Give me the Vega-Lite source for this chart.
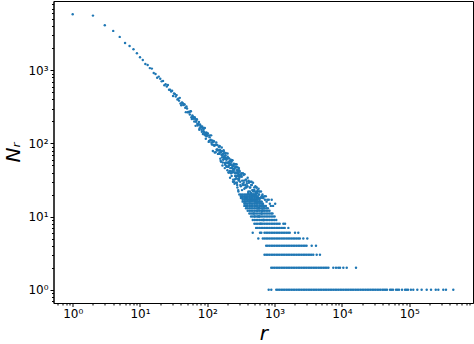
{
"$schema":"https://vega.github.io/schema/vega-lite/v6.json",
"width":419.5,"height":302,
"autosize":{"type":"none"},
"padding":{"left":53.5,"top":1,"right":1,"bottom":41},
"background":"white",
"config":{"view":{"stroke":"#000","strokeWidth":1},"axis":{"grid":false,"domainColor":"#000","tickColor":"#000","labelColor":"#000","titleColor":"#000","labelFont":"DejaVu Sans","titleFont":"DejaVu Sans","labelFontSize":12,"titleFontSize":20,"titleFontWeight":"normal","titleFontStyle":"italic","labelOverlap":false,"labelFlush":false,"labelPadding":2}},
"data":{"values":[
{"r":1,"n":5850},{"r":2,"n":5600},{"r":3,"n":4140},{"r":4,"n":3460},{"r":5,"n":2865},{"r":6,"n":2370},{"r":7,"n":2157},{"r":8,"n":1945},{"r":9,"n":1713},{"r":10,"n":1510},
{"r":11,"n":1384},{"r":12,"n":1219},{"r":13,"n":1186},{"r":14,"n":1072},{"r":15,"n":1055},{"r":16,"n":919},{"r":17,"n":891},{"r":18,"n":793},{"r":19,"n":820},{"r":20,"n":766},
{"r":21,"n":706},{"r":22,"n":717},{"r":23,"n":624},{"r":24,"n":644},{"r":25,"n":602},{"r":26,"n":629},{"r":27,"n":543},{"r":28,"n":544},{"r":29,"n":512},{"r":30,"n":525},
{"r":31,"n":445},{"r":32,"n":483},{"r":33,"n":475},{"r":34,"n":438},{"r":35,"n":458},{"r":36,"n":399},{"r":37,"n":408},{"r":38,"n":385},{"r":39,"n":420},{"r":40,"n":351},
{"r":41,"n":332},{"r":42,"n":364},{"r":43,"n":357},{"r":44,"n":335},{"r":45,"n":344},{"r":46,"n":340},{"r":47,"n":307},{"r":48,"n":268},{"r":49,"n":320},{"r":50,"n":301},
{"r":51,"n":266},{"r":52,"n":269},{"r":53,"n":270},{"r":54,"n":267},{"r":55,"n":249},{"r":56,"n":275},{"r":57,"n":275},{"r":58,"n":229},{"r":59,"n":216},{"r":60,"n":242},
{"r":61,"n":234},{"r":62,"n":229},{"r":63,"n":218},{"r":64,"n":200},{"r":65,"n":228},{"r":66,"n":218},{"r":67,"n":174},{"r":68,"n":198},{"r":69,"n":206},{"r":70,"n":215},
{"r":71,"n":184},{"r":72,"n":176},{"r":73,"n":186},{"r":74,"n":183},{"r":75,"n":197},{"r":76,"n":154},{"r":77,"n":161},{"r":78,"n":182},{"r":79,"n":175},{"r":80,"n":170},
{"r":81,"n":166},{"r":82,"n":154},{"r":83,"n":144},{"r":84,"n":171},{"r":85,"n":162},{"r":86,"n":135},{"r":87,"n":147},{"r":88,"n":154},{"r":89,"n":163},{"r":90,"n":142},
{"r":91,"n":132},{"r":92,"n":163},{"r":93,"n":139},{"r":94,"n":128},{"r":95,"n":116},{"r":96,"n":135},{"r":97,"n":141},{"r":98,"n":125},{"r":99,"n":132},{"r":100,"n":137},
{"r":102,"n":137},{"r":105,"n":105},{"r":108,"n":122},{"r":111,"n":110},{"r":114,"n":129},{"r":117,"n":97},{"r":120,"n":104},{"r":123,"n":95},{"r":126,"n":106},{"r":129,"n":75},
{"r":132,"n":95},{"r":135,"n":96},{"r":138,"n":83},{"r":141,"n":95},{"r":144,"n":72},{"r":147,"n":80},{"r":150,"n":72},{"r":153,"n":91},{"r":156,"n":62},{"r":159,"n":75},
{"r":162,"n":70},{"r":165,"n":78},{"r":168,"n":50},{"r":171,"n":72},{"r":174,"n":61},{"r":177,"n":65},{"r":180,"n":73},{"r":183,"n":54},{"r":186,"n":64},{"r":189,"n":61},
{"r":192,"n":49},{"r":195,"n":62},{"r":198,"n":54},{"r":201,"n":66},{"r":204,"n":48},{"r":207,"n":53},{"r":210,"n":40},{"r":213,"n":57},{"r":216,"n":53},{"r":219,"n":46},
{"r":222,"n":57},{"r":225,"n":39},{"r":228,"n":51},{"r":231,"n":46},{"r":234,"n":59},{"r":237,"n":40},{"r":240,"n":45},{"r":243,"n":41},{"r":246,"n":49},{"r":249,"n":30},
{"r":252,"n":45},{"r":255,"n":46},{"r":258,"n":39},{"r":261,"n":48},{"r":264,"n":33},{"r":267,"n":39},{"r":270,"n":35},{"r":273,"n":48},{"r":276,"n":29},{"r":279,"n":39},
{"r":282,"n":36},{"r":285,"n":43},{"r":288,"n":23},{"r":291,"n":39},{"r":294,"n":32},{"r":297,"n":35},{"r":300,"n":42},
{"r":103,"n":128},{"r":106,"n":108},{"r":109,"n":129},{"r":112,"n":112},{"r":115,"n":102},{"r":118,"n":110},{"r":121,"n":79},{"r":124,"n":108},{"r":127,"n":93},{"r":130,"n":95},
{"r":133,"n":76},{"r":136,"n":103},{"r":139,"n":80},{"r":142,"n":83},{"r":145,"n":72},{"r":148,"n":90},{"r":151,"n":74},{"r":154,"n":82},{"r":157,"n":78},{"r":160,"n":56},
{"r":163,"n":79},{"r":166,"n":65},{"r":169,"n":69},{"r":172,"n":60},{"r":175,"n":81},{"r":178,"n":62},{"r":181,"n":67},{"r":184,"n":51},{"r":187,"n":69},{"r":190,"n":55},
{"r":193,"n":60},{"r":196,"n":63},{"r":199,"n":43},{"r":202,"n":55},{"r":205,"n":48},{"r":208,"n":63},{"r":211,"n":50},{"r":214,"n":56},{"r":217,"n":42},{"r":220,"n":51},
{"r":223,"n":52},{"r":226,"n":41},{"r":229,"n":56},{"r":232,"n":47},{"r":235,"n":42},{"r":238,"n":49},{"r":241,"n":30},{"r":244,"n":51},{"r":247,"n":42},{"r":250,"n":44},
{"r":253,"n":32},{"r":256,"n":52},{"r":259,"n":36},{"r":262,"n":40},{"r":265,"n":33},{"r":268,"n":47},{"r":271,"n":36},{"r":274,"n":43},{"r":277,"n":40},{"r":280,"n":25},
{"r":283,"n":42},{"r":286,"n":33},{"r":289,"n":37},{"r":292,"n":31},{"r":295,"n":46},{"r":298,"n":33},
{"r":152,"n":92},{"r":158,"n":58},{"r":164,"n":88},{"r":170,"n":55},{"r":176,"n":77},{"r":182,"n":46},{"r":188,"n":74},{"r":194,"n":48},{"r":200,"n":73},{"r":206,"n":40},
{"r":212,"n":62},{"r":218,"n":34},{"r":224,"n":60},{"r":230,"n":36},{"r":236,"n":59},{"r":242,"n":32},{"r":248,"n":53},{"r":254,"n":28},{"r":260,"n":52},{"r":266,"n":29},
{"r":272,"n":52},{"r":278,"n":27},{"r":284,"n":47},{"r":290,"n":22},{"r":296,"n":43},
{"r":305,"n":35},{"r":315,"n":26},{"r":325,"n":35},{"r":335,"n":28},{"r":345,"n":37},{"r":355,"n":24},{"r":365,"n":27},{"r":375,"n":18},{"r":385,"n":30},{"r":395,"n":26},
{"r":405,"n":21},{"r":415,"n":29},{"r":425,"n":16},{"r":435,"n":25},{"r":445,"n":21},{"r":455,"n":30},{"r":465,"n":17},{"r":475,"n":20},{"r":485,"n":17},{"r":495,"n":23},
{"r":505,"n":10},{"r":515,"n":20},{"r":525,"n":21},{"r":535,"n":16},{"r":545,"n":22},{"r":555,"n":12},{"r":565,"n":16},{"r":575,"n":13},{"r":585,"n":22},{"r":595,"n":10},
{"r":605,"n":16},{"r":615,"n":14},{"r":625,"n":18},{"r":635,"n":6},{"r":645,"n":16},{"r":655,"n":12},{"r":665,"n":14},{"r":675,"n":18},{"r":685,"n":9},{"r":695,"n":14},
{"r":301,"n":37},{"r":310,"n":27},{"r":320,"n":39},{"r":330,"n":31},{"r":340,"n":27},{"r":350,"n":31},{"r":360,"n":16},{"r":370,"n":32},{"r":380,"n":25},{"r":390,"n":26},
{"r":400,"n":17},{"r":410,"n":31},{"r":420,"n":20},{"r":430,"n":22},{"r":440,"n":17},{"r":450,"n":27},{"r":460,"n":19},{"r":470,"n":23},{"r":480,"n":22},{"r":490,"n":11},
{"r":500,"n":23},{"r":510,"n":16},{"r":520,"n":17},{"r":530,"n":14},{"r":540,"n":25},{"r":550,"n":16},{"r":560,"n":18},{"r":570,"n":10},{"r":580,"n":20},{"r":590,"n":13},
{"r":600,"n":16},{"r":610,"n":18},{"r":620,"n":8},{"r":630,"n":14},{"r":640,"n":11},{"r":650,"n":19},{"r":660,"n":12},{"r":670,"n":15},{"r":680,"n":9},{"r":690,"n":13},
{"r":302,"n":41},{"r":308,"n":30},{"r":318,"n":37},{"r":328,"n":23},{"r":338,"n":39},{"r":348,"n":29},{"r":358,"n":38},{"r":368,"n":25},{"r":378,"n":32},{"r":388,"n":28},
{"r":398,"n":34},{"r":408,"n":22},{"r":418,"n":30},{"r":428,"n":25},{"r":438,"n":30},{"r":448,"n":20},{"r":458,"n":27},{"r":468,"n":23},{"r":478,"n":29},{"r":488,"n":20},
{"r":498,"n":25},{"r":508,"n":22},{"r":518,"n":26},{"r":528,"n":19},{"r":538,"n":25},{"r":548,"n":21},{"r":558,"n":23},{"r":568,"n":18},{"r":578,"n":24},{"r":588,"n":20},
{"r":598,"n":22},{"r":612,"n":18},{"r":628,"n":22},{"r":642,"n":19},{"r":660,"n":20},{"r":680,"n":18},{"r":700,"n":19},{"r":720,"n":17},{"r":740,"n":19},{"r":760,"n":16},
{"r":780,"n":17},{"r":820,"n":17},{"r":850,"n":15},{"r":950,"n":14},{"r":1020,"n":15},
{"r":880,"n":14},{"r":906,"n":17},
{"r":817,"n":1},{"r":893,"n":1},{"r":1059,"n":1},{"r":1122,"n":1},{"r":1189,"n":1},{"r":1259,"n":1},{"r":1334,"n":1},{"r":1413,"n":1},{"r":1496,"n":1},{"r":1585,"n":1},
{"r":1679,"n":1},{"r":1778,"n":1},{"r":1884,"n":1},{"r":1995,"n":1},{"r":2114,"n":1},{"r":2239,"n":1},{"r":2371,"n":1},{"r":2512,"n":1},{"r":2661,"n":1},{"r":2818,"n":1},
{"r":2985,"n":1},{"r":3162,"n":1},{"r":3350,"n":1},{"r":3548,"n":1},{"r":3758,"n":1},{"r":3981,"n":1},{"r":4217,"n":1},{"r":4467,"n":1},{"r":4732,"n":1},{"r":5012,"n":1},
{"r":5309,"n":1},{"r":5623,"n":1},{"r":5957,"n":1},{"r":6310,"n":1},{"r":6683,"n":1},{"r":7080,"n":1},{"r":7499,"n":1},{"r":7943,"n":1},{"r":8414,"n":1},{"r":8913,"n":1},
{"r":9441,"n":1},{"r":10000,"n":1},{"r":10593,"n":1},{"r":11220,"n":1},{"r":11885,"n":1},{"r":12589,"n":1},{"r":13335,"n":1},{"r":14125,"n":1},{"r":14962,"n":1},{"r":15849,"n":1},
{"r":16788,"n":1},{"r":17783,"n":1},{"r":18836,"n":1},{"r":19953,"n":1},{"r":21135,"n":1},{"r":22387,"n":1},{"r":23714,"n":1},{"r":25119,"n":1},{"r":26607,"n":1},{"r":28184,"n":1},
{"r":29854,"n":1},{"r":31623,"n":1},{"r":33497,"n":1},{"r":35481,"n":1},{"r":37584,"n":1},{"r":40000,"n":1},{"r":42200,"n":1},{"r":44500,"n":1},{"r":46800,"n":1},{"r":51900,"n":1},
{"r":54500,"n":1},{"r":57500,"n":1},{"r":63700,"n":1},{"r":67000,"n":1},{"r":70600,"n":1},{"r":78200,"n":1},{"r":86700,"n":1},{"r":91000,"n":1},{"r":96000,"n":1},{"r":106000,"n":1},
{"r":115000,"n":1},{"r":132000,"n":1},{"r":153000,"n":1},{"r":182000,"n":1},{"r":211000,"n":1},{"r":248000,"n":1},{"r":271000,"n":1},{"r":321000,"n":1},{"r":352000,"n":1},{"r":452000,"n":1},
{"r":891,"n":2},{"r":944,"n":2},{"r":1000,"n":2},{"r":1059,"n":2},{"r":1122,"n":2},{"r":1189,"n":2},{"r":1259,"n":2},{"r":1334,"n":2},{"r":1413,"n":2},{"r":1496,"n":2},
{"r":1585,"n":2},{"r":1679,"n":2},{"r":1778,"n":2},{"r":1884,"n":2},{"r":1995,"n":2},{"r":2114,"n":2},{"r":2239,"n":2},{"r":2371,"n":2},{"r":2512,"n":2},{"r":2661,"n":2},
{"r":2818,"n":2},{"r":2985,"n":2},{"r":3162,"n":2},{"r":3350,"n":2},{"r":3548,"n":2},{"r":3758,"n":2},{"r":3981,"n":2},{"r":4217,"n":2},{"r":4467,"n":2},{"r":4732,"n":2},
{"r":5012,"n":2},{"r":5309,"n":2},{"r":5623,"n":2},{"r":5957,"n":2},{"r":6310,"n":2},{"r":7450,"n":2},{"r":8170,"n":2},{"r":8830,"n":2},{"r":9370,"n":2},{"r":10500,"n":2},
{"r":11800,"n":2},{"r":16200,"n":2},
{"r":708,"n":3},{"r":750,"n":3},{"r":794,"n":3},{"r":841,"n":3},{"r":891,"n":3},{"r":944,"n":3},{"r":1000,"n":3},{"r":1059,"n":3},{"r":1122,"n":3},{"r":1189,"n":3},
{"r":1259,"n":3},{"r":1334,"n":3},{"r":1413,"n":3},{"r":1496,"n":3},{"r":1585,"n":3},{"r":1679,"n":3},{"r":1778,"n":3},{"r":1884,"n":3},{"r":1995,"n":3},{"r":2114,"n":3},
{"r":2239,"n":3},{"r":2371,"n":3},{"r":2512,"n":3},{"r":2661,"n":3},{"r":2818,"n":3},{"r":2985,"n":3},{"r":3162,"n":3},{"r":3350,"n":3},{"r":3548,"n":3},{"r":3758,"n":3},
{"r":4220,"n":3},{"r":4720,"n":3},
{"r":750,"n":4},{"r":794,"n":4},{"r":841,"n":4},{"r":891,"n":4},{"r":944,"n":4},{"r":1000,"n":4},{"r":1059,"n":4},{"r":1122,"n":4},{"r":1189,"n":4},{"r":1259,"n":4},
{"r":1334,"n":4},{"r":1413,"n":4},{"r":1496,"n":4},{"r":1585,"n":4},{"r":1679,"n":4},{"r":1778,"n":4},{"r":1884,"n":4},{"r":1995,"n":4},{"r":2114,"n":4},{"r":2239,"n":4},
{"r":2371,"n":4},{"r":2512,"n":4},{"r":2661,"n":4},{"r":2818,"n":4},{"r":2985,"n":4},{"r":3560,"n":4},{"r":4120,"n":4},
{"r":573,"n":5},{"r":668,"n":5},{"r":708,"n":5},{"r":750,"n":5},{"r":794,"n":5},{"r":841,"n":5},{"r":891,"n":5},{"r":944,"n":5},{"r":1000,"n":5},{"r":1059,"n":5},
{"r":1122,"n":5},{"r":1189,"n":5},{"r":1259,"n":5},{"r":1334,"n":5},{"r":1413,"n":5},{"r":1496,"n":5},{"r":1585,"n":5},{"r":1679,"n":5},{"r":1778,"n":5},{"r":1884,"n":5},
{"r":1995,"n":5},{"r":2114,"n":5},{"r":2239,"n":5},{"r":2371,"n":5},{"r":2670,"n":5},{"r":3060,"n":5},
{"r":473,"n":6},{"r":607,"n":6},{"r":708,"n":6},{"r":750,"n":6},{"r":794,"n":6},{"r":841,"n":6},{"r":891,"n":6},{"r":944,"n":6},{"r":1000,"n":6},{"r":1059,"n":6},
{"r":1122,"n":6},{"r":1189,"n":6},{"r":1259,"n":6},{"r":1334,"n":6},{"r":1413,"n":6},{"r":1496,"n":6},{"r":1585,"n":6},{"r":1679,"n":6},{"r":2010,"n":6},{"r":2250,"n":6},
{"r":531,"n":7},{"r":562,"n":7},{"r":596,"n":7},{"r":631,"n":7},{"r":668,"n":7},{"r":708,"n":7},{"r":750,"n":7},{"r":794,"n":7},{"r":841,"n":7},{"r":891,"n":7},
{"r":944,"n":7},{"r":1000,"n":7},{"r":1059,"n":7},{"r":1122,"n":7},{"r":1189,"n":7},{"r":1259,"n":7},{"r":1334,"n":7},{"r":1413,"n":7},{"r":1600,"n":7},
{"r":501,"n":8},{"r":531,"n":8},{"r":562,"n":8},{"r":596,"n":8},{"r":631,"n":8},{"r":668,"n":8},{"r":708,"n":8},{"r":750,"n":8},{"r":794,"n":8},{"r":841,"n":8},
{"r":891,"n":8},{"r":944,"n":8},{"r":1000,"n":8},{"r":1059,"n":8},{"r":1122,"n":8},{"r":1189,"n":8},{"r":1350,"n":8},{"r":1430,"n":8},
{"r":473,"n":9},{"r":501,"n":9},{"r":531,"n":9},{"r":562,"n":9},{"r":596,"n":9},{"r":631,"n":9},{"r":668,"n":9},{"r":708,"n":9},{"r":750,"n":9},{"r":794,"n":9},
{"r":841,"n":9},{"r":891,"n":9},{"r":944,"n":9},{"r":1000,"n":9},{"r":1059,"n":9},
{"r":447,"n":10},{"r":473,"n":10},{"r":501,"n":10},{"r":531,"n":10},{"r":562,"n":10},{"r":596,"n":10},{"r":631,"n":10},{"r":668,"n":10},{"r":708,"n":10},{"r":750,"n":10},
{"r":794,"n":10},{"r":841,"n":10},{"r":891,"n":10},{"r":944,"n":10},{"r":1000,"n":10},
{"r":422,"n":11},{"r":447,"n":11},{"r":473,"n":11},{"r":501,"n":11},{"r":531,"n":11},{"r":562,"n":11},{"r":596,"n":11},{"r":631,"n":11},{"r":668,"n":11},{"r":708,"n":11},
{"r":750,"n":11},{"r":794,"n":11},{"r":841,"n":11},{"r":891,"n":11},{"r":931,"n":11},
{"r":398,"n":12},{"r":422,"n":12},{"r":447,"n":12},{"r":473,"n":12},{"r":501,"n":12},{"r":531,"n":12},{"r":562,"n":12},{"r":596,"n":12},{"r":631,"n":12},{"r":668,"n":12},
{"r":708,"n":12},{"r":750,"n":12},{"r":794,"n":12},{"r":841,"n":12},
{"r":376,"n":13},{"r":398,"n":13},{"r":422,"n":13},{"r":447,"n":13},{"r":473,"n":13},{"r":501,"n":13},{"r":531,"n":13},{"r":562,"n":13},{"r":596,"n":13},{"r":631,"n":13},
{"r":668,"n":13},{"r":708,"n":13},{"r":750,"n":13},{"r":794,"n":13},
{"r":355,"n":14},{"r":376,"n":14},{"r":398,"n":14},{"r":422,"n":14},{"r":447,"n":14},{"r":473,"n":14},{"r":501,"n":14},{"r":531,"n":14},{"r":562,"n":14},{"r":596,"n":14},
{"r":631,"n":14},{"r":668,"n":14},{"r":708,"n":14},{"r":743,"n":14},
{"r":355,"n":15},{"r":376,"n":15},{"r":398,"n":15},{"r":422,"n":15},{"r":447,"n":15},{"r":473,"n":15},{"r":501,"n":15},{"r":531,"n":15},{"r":562,"n":15},{"r":596,"n":15},
{"r":631,"n":15},{"r":668,"n":15},
{"r":335,"n":16},{"r":355,"n":16},{"r":376,"n":16},{"r":398,"n":16},{"r":422,"n":16},{"r":447,"n":16},{"r":473,"n":16},{"r":501,"n":16},{"r":531,"n":16},{"r":562,"n":16},
{"r":596,"n":16},{"r":631,"n":16},
{"r":335,"n":17},{"r":355,"n":17},{"r":376,"n":17},{"r":398,"n":17},{"r":422,"n":17},{"r":447,"n":17},{"r":473,"n":17},{"r":501,"n":17},{"r":531,"n":17},{"r":562,"n":17},
{"r":596,"n":17},
{"r":316,"n":18},{"r":335,"n":18},{"r":355,"n":18},{"r":376,"n":18},{"r":398,"n":18},{"r":422,"n":18},{"r":447,"n":18},{"r":473,"n":18},{"r":501,"n":18},{"r":531,"n":18},
{"r":562,"n":18},{"r":590,"n":18},
{"r":316,"n":19},{"r":335,"n":19},{"r":355,"n":19},{"r":376,"n":19},{"r":398,"n":19},{"r":422,"n":19},{"r":447,"n":19},{"r":473,"n":19},{"r":501,"n":19},{"r":531,"n":19},
{"r":562,"n":19},
{"r":299,"n":20},{"r":316,"n":20},{"r":335,"n":20},{"r":355,"n":20},{"r":376,"n":20},{"r":398,"n":20},{"r":422,"n":20},{"r":447,"n":20},{"r":473,"n":20},{"r":501,"n":20},
{"r":531,"n":20}
]},
"mark":{"type":"point","filled":true,"size":6,"color":"#1f77b4","opacity":1,"strokeWidth":0},
"encoding":{
"x":{"field":"r","type":"quantitative","scale":{"type":"log","domain":[0.5185,887000],"nice":false,"zero":false},
"axis":{"title":"r","titlePadding":4,
"values":[0.6,0.7,0.8,0.9,1,2,3,4,5,6,7,8,9,10,20,30,40,50,60,70,80,90,100,200,300,400,500,600,700,800,900,1000,2000,3000,4000,5000,6000,7000,8000,9000,10000,20000,30000,40000,50000,60000,70000,80000,90000,100000,200000,300000,400000,500000,600000,700000,800000],
"tickSize":{"condition":{"test":"abs(log(datum.value)/LN10 - round(log(datum.value)/LN10)) < 0.001","value":3.5},"value":2},
"labelExpr":"abs(log(datum.value)/LN10 - round(log(datum.value)/LN10)) < 0.001 ? '10' + ['⁰','¹','²','³','⁴','⁵','⁶'][round(log(datum.value)/LN10)] : ''"}},
"y":{"field":"n","type":"quantitative","scale":{"type":"log","domain":[0.6578,8870],"nice":false,"zero":false},
"axis":{"title":"Nᵣ","titlePadding":4,
"values":[0.7,0.8,0.9,1,2,3,4,5,6,7,8,9,10,20,30,40,50,60,70,80,90,100,200,300,400,500,600,700,800,900,1000,2000,3000,4000,5000,6000,7000,8000],
"tickSize":{"condition":{"test":"abs(log(datum.value)/LN10 - round(log(datum.value)/LN10)) < 0.001","value":3.5},"value":2},
"labelExpr":"abs(log(datum.value)/LN10 - round(log(datum.value)/LN10)) < 0.001 ? '10' + ['⁰','¹','²','³','⁴','⁵','⁶'][round(log(datum.value)/LN10)] : ''"}}
}
}
